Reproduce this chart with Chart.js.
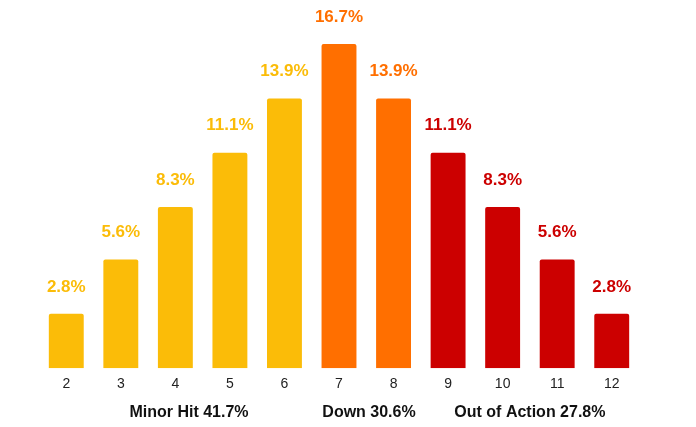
<!DOCTYPE html>
<html>
<head>
<meta charset="utf-8">
<script src="https://cdn.jsdelivr.net/npm/chart.js@4/dist/chart.umd.min.js"></script>
<style>
  html, body { margin: 0; padding: 0; background: #fff; }
  #wrap { width: 696px; height: 427px; }
</style>
</head>
<body>
<div id="wrap"><canvas id="graphique"></canvas></div>
<script>
// donnees (somme de 2d6, en %)
const categories = ["2", "3", "4", "5", "6", "7", "8", "9", "10", "11", "12"];
const pourcentages = [2.8, 5.6, 8.3, 11.1, 13.9, 16.7, 13.9, 11.1, 8.3, 5.6, 2.8];
const groupes = ["Minor Hit", "Minor Hit", "Minor Hit", "Minor Hit", "Minor Hit", "Down", "Down", "Out of Action", "Out of Action", "Out of Action", "Out of Action"];
const groupeNoms = ["Minor Hit 41.7%", "Down 30.6%", "Out of Action 27.8%"];
const groupePositions = [2.25, 5.55, 8.5]; // index de categorie ou centrer le texte

const couleurs = { "Minor Hit": "#FBBC08", "Down": "#FF6F00", "Out of Action": "#CC0000" };
const couleursBarres = groupes.map((g) => couleurs[g]);

// etiquettes de valeur au dessus des barres
const etiquettesPlugin = {
  id: "etiquettes",
  afterDatasetsDraw(chart) {
    const ctx = chart.ctx;
    const meta = chart.getDatasetMeta(0);
    ctx.save();
    ctx.font = "bold 17px 'Liberation Sans', Arial, sans-serif";
    ctx.textAlign = "center";
    ctx.textBaseline = "middle";
    meta.data.forEach((bar, i) => {
      ctx.fillStyle = couleursBarres[i];
      ctx.fillText(pourcentages[i].toFixed(1) + "%", bar.x, bar.y - 27);
    });
    // noms des groupes sous l'axe
    const x = chart.scales.x;
    ctx.fillStyle = "#111";
    ctx.font = "bold 16px 'Liberation Sans', Arial, sans-serif";
    groupeNoms.forEach((nom, i) => {
      const px = x.getPixelForDecimal((groupePositions[i] + 0.5) / categories.length);
      ctx.fillText(nom, px, 413);
    });
    ctx.restore();
  }
};

const config = {
  type: "bar",
  data: {
    labels: categories,
    datasets: [{
      data: pourcentages,
      backgroundColor: couleursBarres,
      borderRadius: 2,
      borderSkipped: "bottom",
      barPercentage: 0.8,
      categoryPercentage: 0.8
    }]
  },
  options: {
    responsive: true,
    maintainAspectRatio: false,
    animation: false,
    layout: { padding: { left: 39, right: 57, top: 12, bottom: 34 } },
    plugins: { legend: { display: false }, tooltip: { enabled: false } },
    scales: {
      x: {
        grid: { display: false },
        border: { display: false },
        ticks: { color: "#222", font: { size: 14, family: "'Liberation Sans', Arial, sans-serif" }, padding: 0 }
      },
      y: { display: false, min: 0, max: 18.35 }
    }
  },
  plugins: [etiquettesPlugin]
};

new Chart(document.querySelector("#graphique"), config);
</script>
</body>
</html>
